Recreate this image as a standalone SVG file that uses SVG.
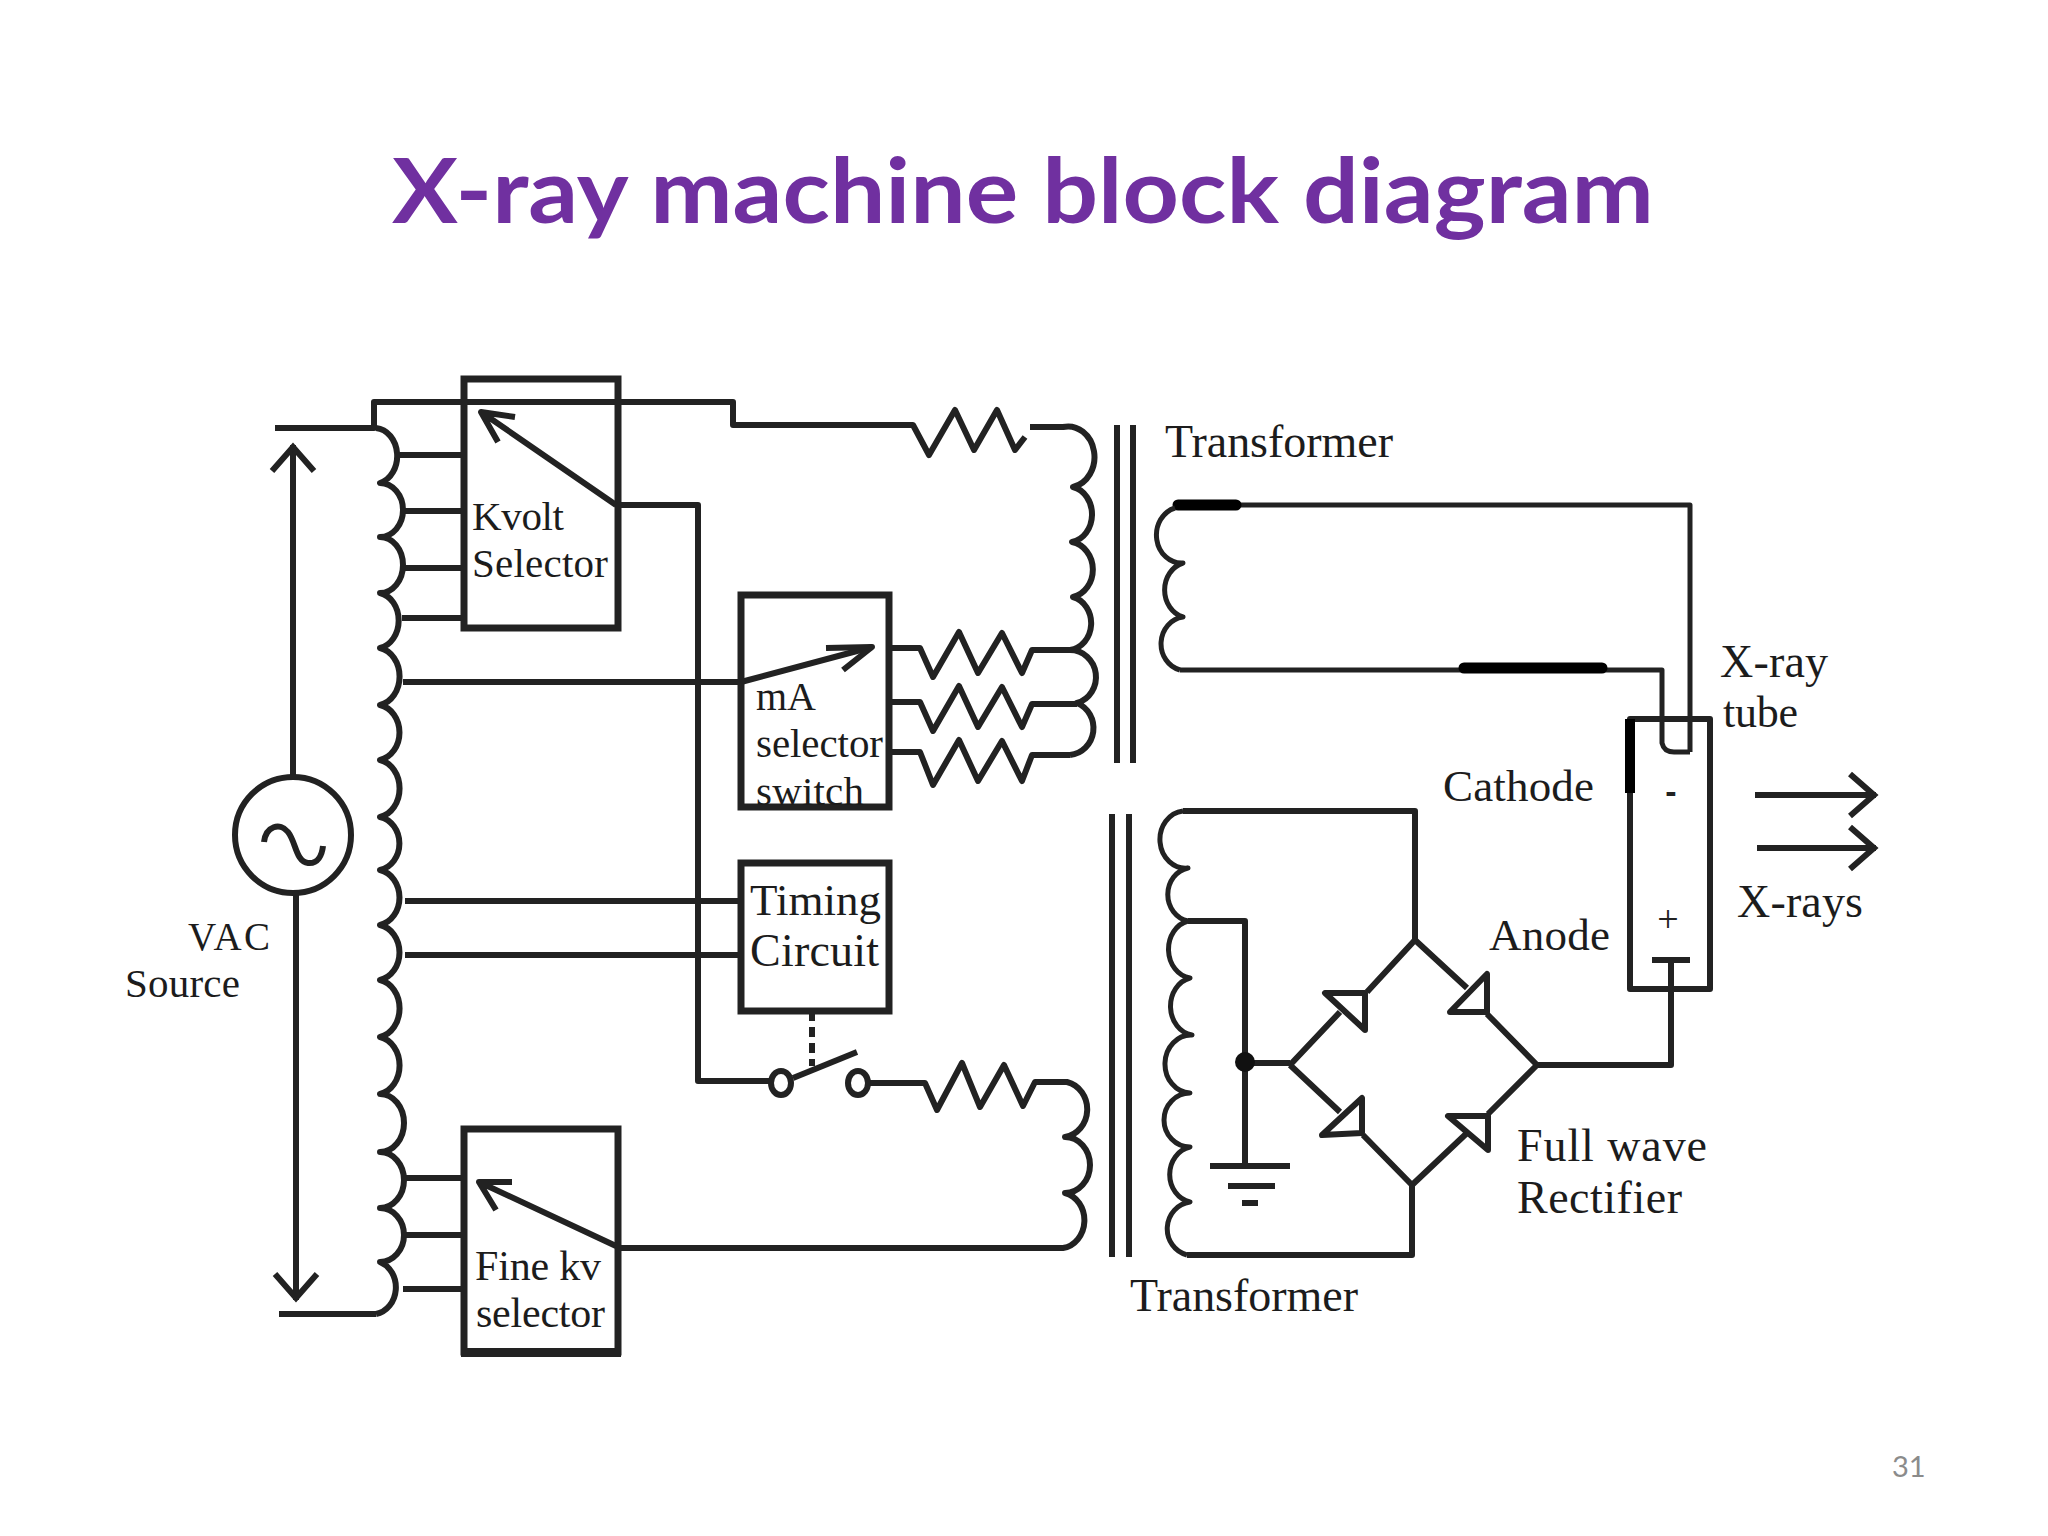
<svg xmlns="http://www.w3.org/2000/svg" width="2048" height="1536" viewBox="0 0 2048 1536">
<style>
.w{fill:none;stroke:#222;stroke-width:6;stroke-linejoin:round;stroke-linecap:butt}
.n{stroke-width:5}
.b{fill:none;stroke:#222;stroke-width:7}
.k{fill:none;stroke:#000;stroke-width:11;stroke-linecap:round}
.t{font-family:"Liberation Serif","Times New Roman",serif;fill:#1c1c1c;lengthAdjust:spacing}
.s41{font-size:41px}.s46{font-size:46px}.s45{font-size:45px}
</style>
<defs>
<marker id="open" markerUnits="userSpaceOnUse" markerWidth="60" markerHeight="60" refX="42" refY="30" orient="auto">
<path d="M16 9L40 30L16 51" fill="none" stroke="#222" stroke-width="6"/>
</marker>
</defs>
<rect width="2048" height="1536" fill="#fff"/>
<text id="title" x="392" y="223" font-family="Lato,'Open Sans',sans-serif" font-weight="700" font-size="90" fill="#7030A0" textLength="1262" lengthAdjust="spacingAndGlyphs">X-ray machine block diagram</text>
<text id="page" x="1892" y="1477" font-family="Lato,'Open Sans',sans-serif" font-size="29" fill="#8b8b8b">31</text>

<g id="connectors" class="w">
<!-- main input and top rail -->
<path class="w" d="M275 428H374V402H733V425H913L929 455L955 410L974 450L997 410L1015 450L1025 437"/>
<path class="w" d="M1030 427H1063A26 30 0 0 1 1073 487A24 28 0 0 1 1072 542A25 28 0 0 1 1073 597A24 27 0 0 1 1070 650"/>
<path class="w" d="M1070 650A26 27 0 0 1 1077 703A26 27 0 0 1 1070 755"/>
<!-- mA resistors -->
<path class="w" d="M889 648H920L933 677L959 632L978 673L1002 633L1022 673L1032 650H1070"/>
<path class="w" d="M889 702H920L933 731L959 686L978 727L1002 687L1022 727L1032 704H1077"/>
<path class="w" d="M889 752H920L933 785L959 740L978 781L1002 741L1022 781L1032 755H1070"/>
<!-- autotransformer taps -->
<path class="w" d="M400 455H464M402 511H464M403 568H464M402 618H464"/>
<path class="w" d="M403 682H741L872 647"/>
<path class="w" d="M405 901H741M405 955H741"/>
<path class="w" d="M403 1178H464M403 1235H464M403 1289H464"/>
<path class="w" d="M279 1314H376"/>
<!-- Kvolt output to switch -->
<path class="w" d="M618 505H698V1081H770"/>
<path class="w" d="M793 1078L857 1052"/>
<path class="w" d="M812 1011V1066" stroke-dasharray="10 6"/>
<path class="w" d="M869 1083H925L937 1110L962 1063L980 1107L1004 1065L1023 1106L1035 1082H1067A26 28 0 0 1 1065 1137A25 28 0 0 1 1065 1193A25 28 0 0 1 1063 1248H618"/>
<!-- secondary HV -->
<path class="w n" d="M1240 505H1690V752"/>
<path class="k" d="M1178 505H1236"/>
<path class="w n" d="M1180 670H1662V743Q1664 752 1674 752H1690"/>
<path class="k" d="M1464 668H1602"/>
<!-- second transformer to bridge -->
<path class="w" d="M1183 811H1415V940"/>
<path class="w" d="M1187 1255H1412V1185"/>
<path class="w" d="M1188 921H1245V1166"/>
<path class="w" d="M1245 1063H1290"/>
<!-- bridge wires -->
<path class="w" d="M1290 1065L1340 1012M1367 992L1415 940L1467 988M1487 1014L1537 1065L1488 1114M1467 1133L1412 1185L1363 1135M1340 1112L1290 1065"/>
<path class="w" d="M1537 1065H1671V960"/>
<!-- dual-sided arrows -->
<path class="w" d="M293 777V445" marker-end="url(#open)"/>
<path class="w" d="M296 893V1300" marker-end="url(#open)"/>
<path class="w" d="M1755 795H1876" marker-end="url(#open)"/>
<path class="w" d="M1757 848H1876" marker-end="url(#open)"/>
</g>

<g id="vac-source">
<circle class="w" cx="293" cy="835" r="58"/>
<path class="w" d="M264 842C266 826 280 822 288 832C296 842 296 862 308 863C318 864 322 855 323 846"/>
<text class="t" x="188" y="950" font-size="39" textLength="82">VAC</text>
<text class="t s41" x="125" y="997" textLength="115">Source</text>
</g>

<g id="autotransformer">
<path class="w" d="M376 428A23 28 0 0 1 380 483A23 27 0 0 1 380 537A23 28 0 0 1 380 593A23 28 0 0 1 380 648A24 29 0 0 1 380 705A24 28 0 0 1 380 760A24 29 0 0 1 380 817A24 27 0 0 1 380 870A24 28 0 0 1 380 925A24 28 0 0 1 380 980A24 29 0 0 1 380 1037A24 29 0 0 1 380 1094A24 29 0 0 1 380 1152A24 28 0 0 1 380 1208A24 27 0 0 1 380 1262A24 27 0 0 1 376 1314"/>
</g>

<g id="kvolt-selector">
<rect class="b" x="464" y="379" width="154" height="249"/>
<path class="w" d="M616 505L481 412M515 417L481 412L498 442"/>
<text class="t s41" x="472" y="530" textLength="92">Kvolt</text>
<text class="t s41" x="472" y="577" textLength="136">Selector</text>
</g>

<g id="ma-selector">
<rect class="b" x="741" y="595" width="148" height="212"/>
<path class="w" d="M826 648L872 647L843 670"/>
<text class="t" x="756" y="710" font-size="40" textLength="60">mA</text>
<text class="t s41" x="756" y="757" textLength="127">selector</text>
<text class="t s41" x="756" y="805" textLength="108">switch</text>
</g>

<g id="timing-circuit">
<rect class="b" x="741" y="863" width="148" height="148"/>
<text class="t" x="750" y="915" font-size="45" textLength="131">Timing</text>
<text class="t" x="750" y="966" font-size="46" textLength="129">Circuit</text>
</g>

<g id="timer-switch">
<ellipse class="w" cx="781" cy="1083" rx="10" ry="12"/>
<ellipse class="w" cx="858" cy="1083" rx="10" ry="12"/>
</g>

<g id="fine-kv-selector">
<rect class="b" x="464" y="1129" width="154" height="223"/>
<path d="M461 1348H621V1357H461Z" fill="#222"/>
<path class="w" d="M616 1246L479 1182M512 1182L479 1182L496 1210"/>
<text class="t" x="475" y="1280" font-size="42" textLength="126">Fine kv</text>
<text class="t" x="476" y="1327" font-size="42" textLength="129">selector</text>
</g>

<g id="transformer-1">
<path class="w" d="M1117 425V763M1133 425V763"/>
<path class="w n" d="M1175 508A25 28 0 0 0 1183 563A25 28 0 0 0 1183 617A25 27 0 0 0 1180 670"/>
<text class="t s46" x="1165" y="457" textLength="228">Transformer</text>
</g>

<g id="transformer-2">
<path class="w" d="M1112 814V1257M1129 814V1257"/>
<path class="w n" d="M1183 811A25 28 0 0 0 1188 868A25 27 0 0 0 1188 921A25 29 0 0 0 1190 978A25 29 0 0 0 1192 1035A26 29 0 0 0 1190 1093A26 27 0 0 0 1190 1147A25 28 0 0 0 1190 1202A26 27 0 0 0 1187 1255"/>
<text class="t s46" x="1130" y="1311" textLength="228">Transformer</text>
</g>

<g id="ground">
<path class="w" d="M1210 1166H1290M1228 1186H1275M1242 1203H1258"/>
<circle cx="1245" cy="1062" r="10" fill="#111"/>
</g>

<g id="full-wave-rectifier">
<path class="w" d="M1325 993H1365V1030ZM1487 974V1012H1450ZM1362 1098V1133L1322 1135ZM1448 1116H1488V1150Z"/>
<text class="t s46" x="1517" y="1161" font-size="47" textLength="190">Full wave</text>
<text class="t s46" x="1517" y="1213" font-size="47" textLength="165">Rectifier</text>
</g>

<g id="xray-tube">
<rect class="w" x="1630" y="719" width="80" height="270"/>
<path d="M1625 719H1635V793H1625Z" fill="#000"/>
<path class="w" d="M1652 960H1690"/>
<text x="1671" y="803" font-family="'Liberation Sans',Arial,sans-serif" font-size="34" font-weight="700" text-anchor="middle" fill="#222">-</text>
<text x="1668" y="932" font-family="'Liberation Serif',serif" font-size="38" text-anchor="middle" fill="#222">+</text>
<text class="t s45" x="1443" y="801" textLength="151">Cathode</text>
<text class="t s45" x="1489" y="950" textLength="121">Anode</text>
<text class="t s46" x="1720" y="677" textLength="108">X-ray</text>
<text class="t" x="1723" y="727" font-size="44" textLength="75">tube</text>
<text class="t s46" x="1737" y="917" textLength="126">X-rays</text>
</g>
</svg>
